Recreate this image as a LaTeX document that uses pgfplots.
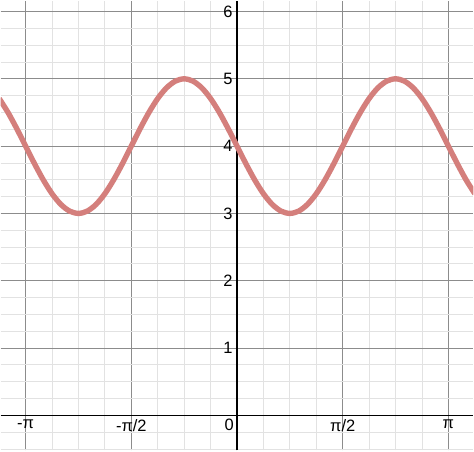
\documentclass[border=0pt]{standalone}
\usepackage{pgfplots}
\pgfplotsset{compat=1.18}
\usepackage{fontspec}
\setmainfont{Liberation Sans}
\definecolor{curve}{HTML}{D47F7C}
\definecolor{majgrid}{HTML}{8C8C8C}
\definecolor{mingrid}{HTML}{E2E2E2}
\begin{document}
\begin{tikzpicture}
\begin{axis}[
    width=474pt, height=451pt, scale only axis,
    xmin=-3.511, xmax=3.511, ymin=-0.52, ymax=6.16,
    axis lines=middle,
    axis line style={black, line width=1.5pt, -},
    xtick={-3.14159,-1.5708,1.5708,3.14159},
    xticklabels={-π,-π/2,π/2,π},
    ytick={1,2,3,4,5,6},
    yticklabels={1,2,3,4,5,6},
    minor xtick={-3.5343,-3.1416,-2.7489,-2.3562,-1.9635,-1.5708,-1.1781,-0.7854,-0.3927,0,0.3927,0.7854,1.1781,1.5708,1.9635,2.3562,2.7489,3.1416,3.5343},
    minor ytick={-0.5,-0.25,0,0.25,0.5,0.75,1,1.25,1.5,1.75,2,2.25,2.5,2.75,3,3.25,3.5,3.75,4,4.25,4.5,4.75,5,5.25,5.5,5.75,6},
    major tick length=0pt, minor tick length=0pt,
    grid=both,
    major grid style={majgrid, line width=0.8pt},
    minor grid style={mingrid, line width=0.8pt},
    tick label style={font=\fontsize{16.5}{16.5}\selectfont, fill=none},
    xticklabel style={anchor=north, yshift=-1pt},
    yticklabel style={anchor=east, xshift=-1pt},
    clip=true,
]
\addplot[curve, line width=5.4pt, smooth] coordinates {
(-3.5343,4.7071) (-3.4034,4.5) (-3.2725,4.2588) (-3.1416,4) (-3.0107,3.7412)
(-2.8798,3.5) (-2.7489,3.2929) (-2.6180,3.1340) (-2.4871,3.0341) (-2.3562,3)
(-2.2253,3.0341) (-2.0944,3.1340) (-1.9635,3.2929) (-1.8326,3.5) (-1.7017,3.7412)
(-1.5708,4) (-1.4399,4.2588) (-1.3090,4.5) (-1.1781,4.7071) (-1.0472,4.8660)
(-0.9163,4.9659) (-0.7854,5) (-0.6545,4.9659) (-0.5236,4.8660) (-0.3927,4.7071)
(-0.2618,4.5) (-0.1309,4.2588) (0,4) (0.1309,3.7412) (0.2618,3.5)
(0.3927,3.2929) (0.5236,3.1340) (0.6545,3.0341) (0.7854,3) (0.9163,3.0341)
(1.0472,3.1340) (1.1781,3.2929) (1.3090,3.5) (1.4399,3.7412) (1.5708,4)
(1.7017,4.2588) (1.8326,4.5) (1.9635,4.7071) (2.0944,4.8660) (2.2253,4.9659)
(2.3562,5) (2.4871,4.9659) (2.6180,4.8660) (2.7489,4.7071) (2.8798,4.5)
(3.0107,4.2588) (3.1416,4) (3.2725,3.7412) (3.4034,3.5) (3.5343,3.2929)
};
\node[anchor=north east, font=\fontsize{16.5}{16.5}\selectfont, inner sep=3pt] at (axis cs:0,0) {0};
\end{axis}
\end{tikzpicture}
\end{document}
